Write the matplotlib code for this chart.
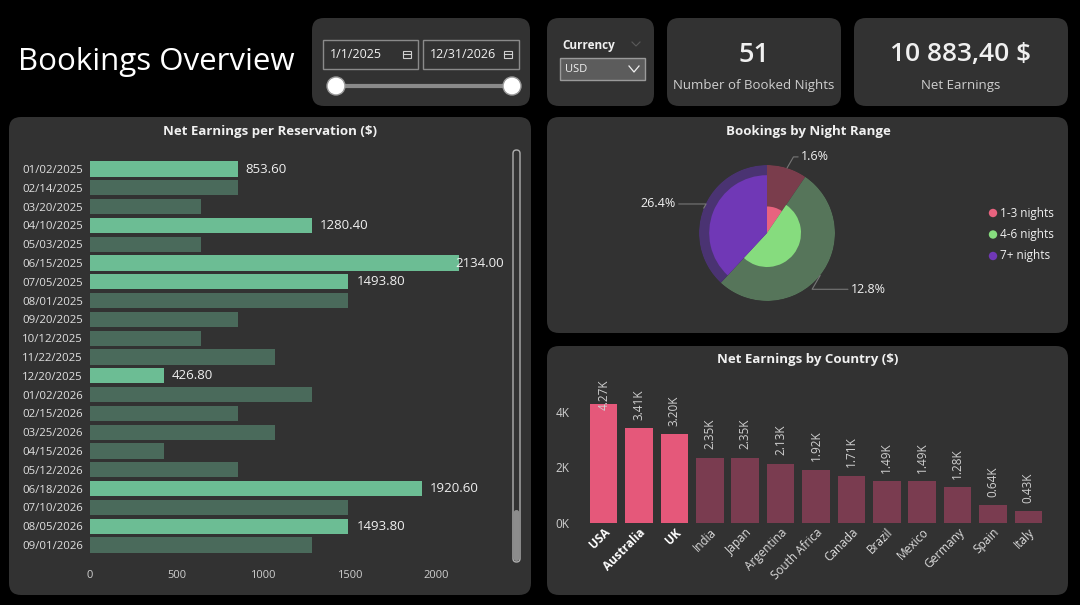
import numpy as np
import matplotlib.pyplot as plt
from matplotlib.patches import FancyBboxPatch, Circle, Rectangle

plt.rcParams['font.family'] = ['Open Sans', 'DejaVu Sans']

W, H = 1080, 605

# --- data -------------------------------------------------------------
res_dates = ["01/02/2025", "02/14/2025", "03/20/2025", "04/10/2025", "05/03/2025",
             "06/15/2025", "07/05/2025", "08/01/2025", "09/20/2025", "10/12/2025",
             "11/22/2025", "12/20/2025", "01/02/2026", "02/15/2026", "03/25/2026",
             "04/15/2026", "05/12/2026", "06/18/2026", "07/10/2026", "08/05/2026",
             "09/01/2026"]
res_earnings = [853.60, 853.60, 640.20, 1280.40, 640.20,
                2134.00, 1493.80, 1493.80, 853.60, 640.20,
                1067.00, 426.80, 1280.40, 853.60, 1067.00,
                426.80, 853.60, 1920.60, 1493.80, 1493.80,
                1280.40]
res_selected = [1, 0, 0, 1, 0, 1, 1, 0, 0, 0, 0, 1, 0, 0, 0, 0, 0, 1, 0, 1, 0]

night_ranges = ["1-3 nights", "4-6 nights", "7+ nights"]
night_bookings = [2, 11, 8]
night_labels = ["1.6%", "12.8%", "26.4%"]
night_inner = [0.39, 0.50, 0.85]

countries = ["USA", "Australia", "UK", "India", "Japan", "Argentina", "South Africa",
             "Canada", "Brazil", "Mexico", "Germany", "Spain", "Italy"]
country_earnings = [4268.0, 3414.4, 3201.0, 2347.4, 2347.4, 2134.0, 1920.6,
                    1707.2, 1493.8, 1493.8, 1280.4, 640.2, 426.8]
country_top = [1, 1, 1, 0, 0, 0, 0, 0, 0, 0, 0, 0, 0]

booked_nights = 51
net_earnings = 10883.40
date_from, date_to = "1/1/2025", "12/31/2026"
currency = "USD"

# --- colours ----------------------------------------------------------
PANEL = "#323232"
TXT = "#f0f0f0"
SUB = "#cfcfcf"
GREEN_HI, GREEN_LO = "#6cbd94", "#4a6a5b"
PINK_HI, PINK_LO = "#e5587a", "#7a3c50"
ring_cols = ["#7a3d4c", "#56755a", "#4a3372"]
inner_cols = ["#e8637f", "#86dc7e", "#7038b6"]

fig = plt.figure(figsize=(W / 100, H / 100), dpi=100)
fig.patch.set_facecolor("black")

bg = fig.add_axes([0, 0, 1, 1])
bg.set_xlim(0, W)
bg.set_ylim(H, 0)
bg.axis("off")
bg.set_zorder(0)


def panel(x0, y0, x1, y1, r=12):
    bg.add_patch(FancyBboxPatch((x0, y0), x1 - x0, y1 - y0,
                                boxstyle=f"round,pad=0,rounding_size={r}",
                                fc=PANEL, ec="none"))


def px_axes(x0, y0, x1, y1, **kw):
    ax = fig.add_axes([x0 / W, 1 - y1 / H, (x1 - x0) / W, (y1 - y0) / H], **kw)
    ax.set_zorder(1)
    ax.patch.set_alpha(0)
    return ax


# panels
panel(312, 18, 530, 106)
panel(547, 18, 654, 106)
panel(667, 18, 841, 106)
panel(854, 18, 1068, 106)
panel(9, 117, 531, 595)
panel(547, 117, 1068, 333)
panel(547, 346, 1068, 595)

# --- header -----------------------------------------------------------
bg.text(18, 62, "Bookings Overview", color="white", fontsize=22.5, va="center", ha="left")

# date slicer
for bx0, bx1, txt in [(323, 418, date_from), (423, 519, date_to)]:
    bg.add_patch(Rectangle((bx0, 40), bx1 - bx0, 29, fc=PANEL, ec="#8a8a8a", lw=1))
    bg.text(bx0 + 7, 55, txt, color=TXT, fontsize=9, va="center")
    bg.add_patch(Rectangle((bx1 - 15, 51), 8, 7, fc="none", ec=SUB, lw=0.8))
    bg.plot([bx1 - 15, bx1 - 7], [53.5, 53.5], color=SUB, lw=0.8)
bg.plot([336, 512], [86, 86], color="#8a8a8a", lw=3, solid_capstyle="round")
for cx in (336, 512):
    bg.add_patch(Circle((cx, 86), 9, fc="white", ec="#999999", lw=1, zorder=3))

# currency slicer
bg.text(562, 45, "Currency", color=TXT, fontsize=8.5, fontweight="bold", va="center")
bg.plot([632, 636, 640], [42, 46, 42], color="#5a5a5a", lw=0.8)
bg.add_patch(Rectangle((560, 58), 85, 22, fc="#5c5c5c", ec="#9a9a9a", lw=1))
bg.text(565, 70, currency, color=TXT, fontsize=8, va="center")
bg.plot([629, 634, 639], [66, 72, 66], color=TXT, lw=0.9)

# cards
bg.text(754, 55, f"{booked_nights}", color=TXT, fontsize=19.5, fontweight="semibold",
        ha="center", va="center")
bg.text(754, 86, "Number of Booked Nights", color=SUB, fontsize=9.5, ha="center", va="center")
net_txt = f"{net_earnings:,.2f}".replace(",", " ").replace(".", ",") + " $"
bg.text(961, 55, net_txt, color=TXT, fontsize=19, fontweight="semibold",
        ha="center", va="center")
bg.text(961, 86, "Net Earnings", color=SUB, fontsize=9.5, ha="center", va="center")

# --- net earnings per reservation -------------------------------------
bg.text(270, 132, "Net Earnings per Reservation ($)", color=TXT, fontsize=9.5,
        fontweight="bold", ha="center", va="center")
ax = px_axes(90, 159.6, 500, 554.4)
y = np.arange(len(res_dates))
cols = [GREEN_HI if s else GREEN_LO for s in res_selected]
ax.barh(y, res_earnings, height=0.8, color=cols)
ax.set_xlim(0, 2370)
ax.set_ylim(len(res_dates) - 0.5, -0.5)
ax.set_yticks(y, res_dates)
ax.set_xticks([0, 500, 1000, 1500, 2000])
ax.tick_params(length=0, colors=SUB, labelsize=8)
ax.tick_params(axis="y", pad=5, colors="#e0e0e0", labelsize=8.2)
ax.tick_params(axis="x", pad=11)
for s in ax.spines.values():
    s.set_visible(False)
for yi, v, s in zip(y, res_earnings, res_selected):
    if s:
        ax.text(min(v + 46, 2110), yi, f"{v:.2f}", color=TXT, fontsize=9.5, va="center")

# scrollbar
bg.add_patch(FancyBboxPatch((513, 150), 7, 412, boxstyle="round,pad=0,rounding_size=3.5",
                            fc=PANEL, ec="#b0b0b0", lw=1))
bg.add_patch(FancyBboxPatch((513.5, 510), 6, 51, boxstyle="round,pad=0,rounding_size=3",
                            fc="#8c8c8c", ec="none"))

# --- bookings by night range ------------------------------------------
bg.text(808, 132, "Bookings by Night Range", color=TXT, fontsize=9.5,
        fontweight="bold", ha="center", va="center")
pax = px_axes(699, 165, 835, 301, projection="polar")
pax.set_theta_zero_location("N")
pax.set_theta_direction(-1)
widths = 2 * np.pi * np.array(night_bookings) / sum(night_bookings)
starts = np.concatenate([[0], np.cumsum(widths)[:-1]])
pax.bar(starts, 1.0, width=widths, align="edge", color=ring_cols, linewidth=0)
pax.bar(starts, night_inner, width=widths, align="edge", color=inner_cols, linewidth=0)
pax.set_ylim(0, 1)
pax.axis("off")
mids = starts + widths / 2
offsets = [(10, 8), (22, -10), (-20, 3)]
for m, lab, off in zip(mids, night_labels, offsets):
    pax.annotate(lab, xy=(m, 1.0), xytext=off, textcoords="offset points",
                 color=TXT, fontsize=9, va="center",
                 ha="left" if off[0] > 0 else "right",
                 arrowprops=dict(arrowstyle="-", color="#777777", lw=0.8,
                                 shrinkA=0, shrinkB=0,
                                 connectionstyle="angle,angleA=0,angleB=60,rad=0"),
                 annotation_clip=False)
for i, (lab, c) in enumerate(zip(night_ranges, inner_cols)):
    yy = 213 + i * 21.5
    bg.add_patch(Circle((993, yy), 4.2, fc=c, ec="none"))
    bg.text(1000, yy, lab, color=TXT, fontsize=8.5, va="center")

# --- net earnings by country ------------------------------------------
bg.text(808, 360, "Net Earnings by Country ($)", color=TXT, fontsize=9.5,
        fontweight="bold", ha="center", va="center")
cax = px_axes(586, 384, 1046, 523)
x = np.arange(len(countries))
ccols = [PINK_HI if t else PINK_LO for t in country_top]
cax.bar(x, country_earnings, width=0.78, color=ccols)
cax.set_xlim(-0.5, len(countries) - 0.5)
cax.set_ylim(0, 5000)
cax.set_yticks([0, 2000, 4000], ["0K", "2K", "4K"])
cax.set_xticks(x, countries)
cax.tick_params(length=0, colors=SUB, labelsize=8.5)
cax.tick_params(axis="y", pad=12)
cax.tick_params(axis="x", pad=2)
for lbl, t in zip(cax.get_xticklabels(), country_top):
    lbl.set_rotation(45)
    lbl.set_ha("right")
    lbl.set_rotation_mode("anchor")
    lbl.set_color("white" if t else "#dddddd")
    if t:
        lbl.set_fontweight("bold")
for s in cax.spines.values():
    s.set_visible(False)
for xi, v in zip(x, country_earnings):
    cax.text(xi, min(v + 300, 4050), f"{v / 1000:.2f}K", rotation=90, color=SUB,
             fontsize=8.5, ha="center", va="bottom")

fig.savefig("out.png", dpi=100, facecolor=fig.get_facecolor())
